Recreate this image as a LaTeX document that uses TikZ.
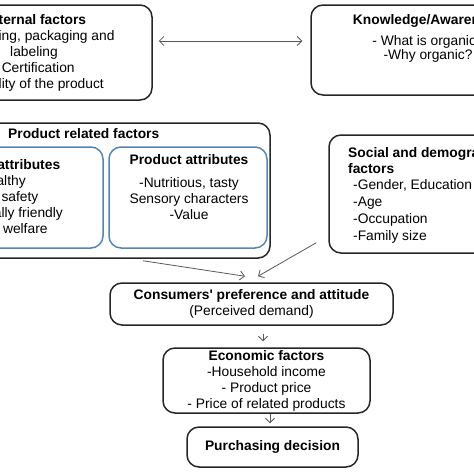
\documentclass[tikz,border=0pt]{standalone}
\usepackage{fontspec}
\setmainfont{Liberation Sans}
\usetikzlibrary{arrows.meta}
\definecolor{attrblue}{RGB}{84,134,180}
\begin{document}
\begin{tikzpicture}[x=1pt,y=-1pt,line join=round,
  font=\fontsize{13.8}{16}\selectfont,
  box/.style={draw=black!85,line width=1.5pt,rounded corners=12pt,inner sep=0pt},
  attr/.style={draw=attrblue,line width=1.5pt,rounded corners=12pt,inner sep=0pt},
  txt/.style={inner sep=0pt,align=center},
  link/.style={draw=black!65,line width=.8pt},
  >={Straight Barb[length=4.5pt,width=9pt]}]
  \useasboundingbox (0,0) rectangle (474,474);
  \clip (0,0) rectangle (474,474);
  \node[box,txt,minimum width=236pt,minimum height=95pt] (ext) at (34,52.5)
    {\textbf{External factors}\\- Branding, packaging and\\labeling\\- Certification\\- Quality of the product};
  \node[box,minimum width=228pt,minimum height=90pt] (know) at (425,50) {};
  \node[txt,anchor=north] (knowtxt) at (428,14)
    {\textbf{Knowledge/Awareness}\\[5pt]- What is organic?\\[-2pt]-Why organic?};
  \node[box,minimum width=310pt,minimum height=135pt] (prod) at (115,190.5) {};
  \node[inner sep=0pt,anchor=west] (prodtxt) at (8,134) {\textbf{Product related factors}};
  \node[attr,minimum width=200pt,minimum height=101pt] (procattr) at (3,197.5) {};
  \node[txt,anchor=north] (proctxt) at (0,159)
    {\textbf{Process attributes}\\-Healthy\\-Food safety\\-Ecologically friendly\\-Animal welfare};
  \node[attr,minimum width=158pt,minimum height=101pt] (prodattr) at (188,197.5) {};
  \node[txt,anchor=north] (attrtxt) at (189,154.5)
    {\textbf{Product attributes}\\[7pt]-Nutritious, tasty\\Sensory characters\\-Value};
  \node[box,minimum width=200pt,minimum height=118pt] (social) at (429,194) {};
  \node[inner sep=0pt,align=left,anchor=north west] (socialtxt) at (348,147)
    {\textbf{Social and demographic}\\\textbf{factors}\\\hspace*{5pt}-Gender, Education\\[1pt]\hspace*{5pt}-Age\\[1pt]\hspace*{5pt}-Occupation\\[1pt]\hspace*{5pt}-Family size};
  \node[box,txt,minimum width=283pt,minimum height=42pt] (pref) at (251.5,304)
    {\textbf{Consumers\textquotesingle\ preference and attitude}\\(Perceived demand)};
  \node[box,txt,minimum width=207pt,minimum height=65pt] (econ) at (266.5,380.5)
    {\textbf{Economic factors}\\-Household income\\- Product price\\- Price of related products};
  \node[box,txt,minimum width=171pt,minimum height=40pt] (buy) at (272.5,447)
    {\textbf{Purchasing decision}};
  \draw[link,<->,shorten <=6pt,shorten >=8pt] ([yshift=11.5pt]ext.east) -- ([yshift=9pt]know.west);
  \draw[link,->] ([xshift=28pt,yshift=-2pt]prod.south) -- ([xshift=-6.5pt,yshift=6pt]pref.north);
  \draw[link,->] ([xshift=-12pt,yshift=11pt]social.south west) -- ([xshift=6.5pt,yshift=6pt]pref.north);
  \draw[link,->,shorten <=8pt,shorten >=6pt] ([xshift=11.5pt]pref.south) -- ([xshift=-3.5pt]econ.north);
  \draw[link,->,shorten >=3pt] ([xshift=3.5pt]econ.south) -- ([xshift=-2.5pt]buy.north);
\end{tikzpicture}
\end{document}
